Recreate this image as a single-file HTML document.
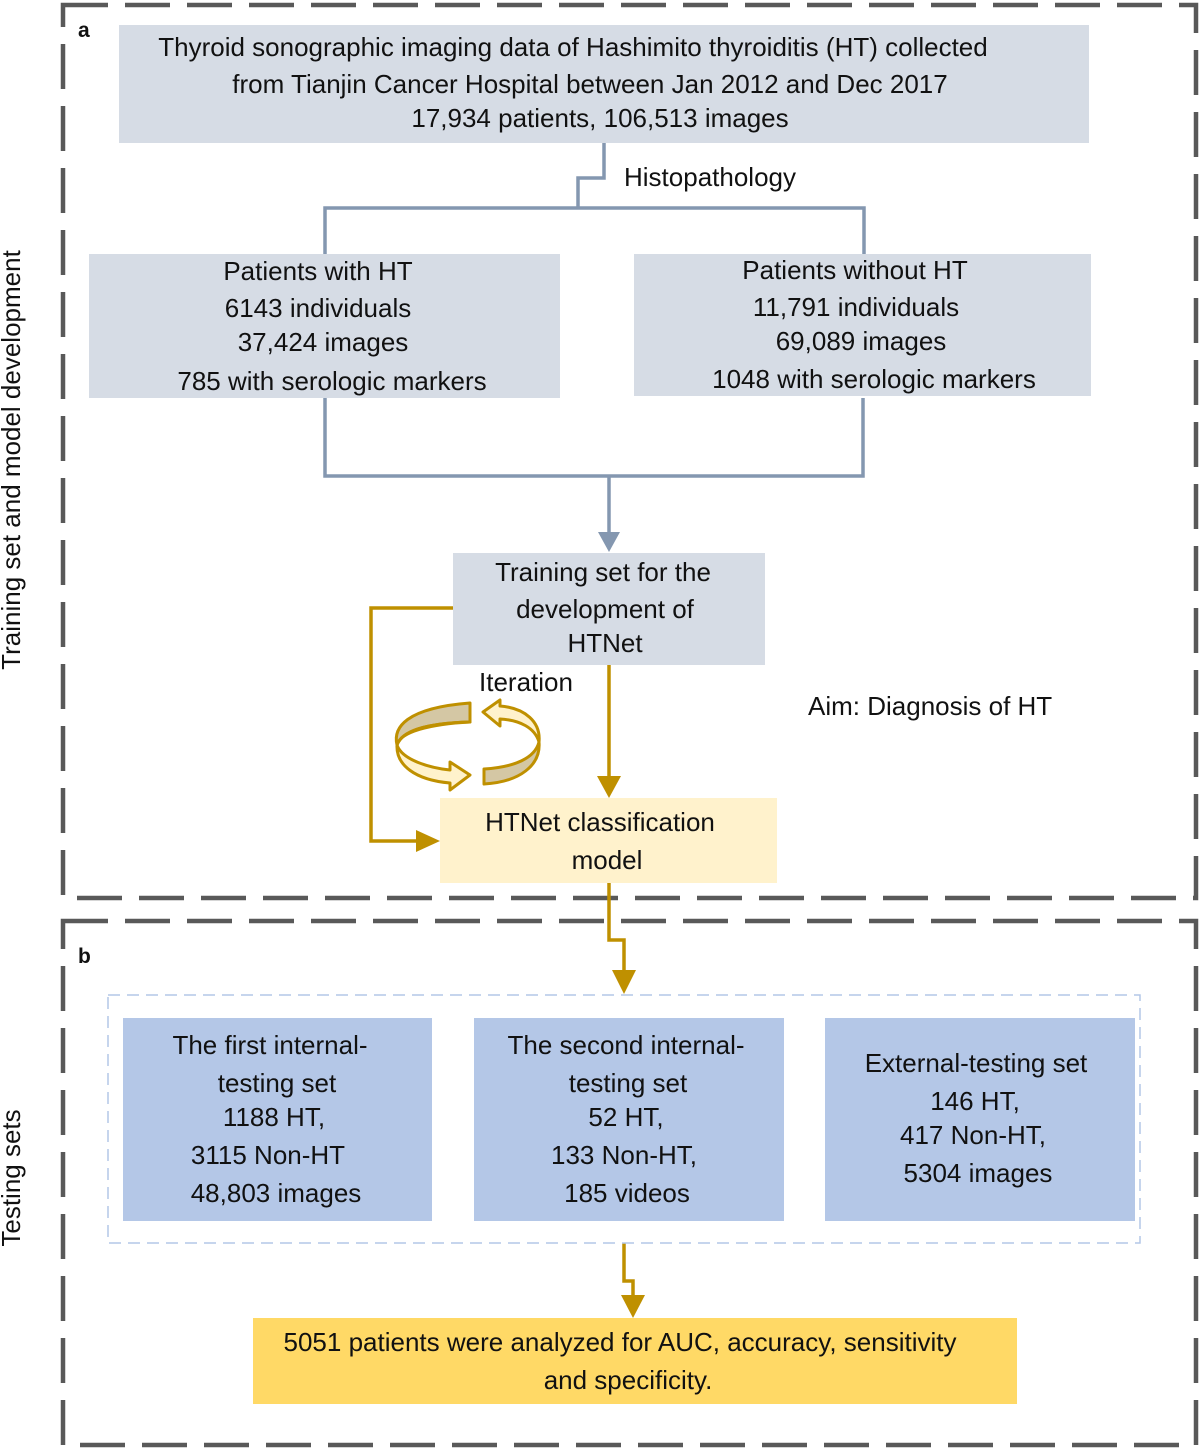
<!DOCTYPE html>
<html><head><meta charset="utf-8"><style>
html,body{margin:0;padding:0;background:#fff}
svg{display:block}
text{font-family:"Liberation Sans",sans-serif;font-size:26px;fill:#111}
</style></head><body>
<svg width="1200" height="1449" viewBox="0 0 1200 1449" xmlns="http://www.w3.org/2000/svg">
<g fill="none" stroke="#595959" stroke-width="4.5" stroke-dasharray="45,17">
<rect x="63" y="5" width="1133" height="893"/>
<rect x="63" y="921" width="1133" height="524"/>
</g>
<text x="78" y="37" font-weight="bold" style="font-size:21px">a</text>
<text x="78" y="963" font-weight="bold" style="font-size:21px">b</text>
<text transform="translate(20,460) rotate(-90)" text-anchor="middle">Training set and model development</text>
<text transform="translate(20,1178) rotate(-90)" text-anchor="middle">Testing sets</text>

<rect x="119" y="25" width="970" height="118" fill="#d6dce5"/>
<text x="573" y="56" text-anchor="middle">Thyroid sonographic imaging data of Hashimito thyroiditis (HT) collected</text>
<text x="590" y="93" text-anchor="middle">from Tianjin Cancer Hospital between Jan 2012 and Dec 2017</text>
<text x="600" y="127" text-anchor="middle">17,934 patients, 106,513 images</text>

<g fill="none" stroke="#8497b0" stroke-width="3.5">
<path d="M604,143 V178 H578 V208"/>
<path d="M325,255 V208 H864 V255"/>
<path d="M325,398 V476 H863 V398"/>
<path d="M609,476 V535"/>
</g>
<path d="M598,532 L620,532 L609,552 z" fill="#8497b0"/>
<text x="624" y="186">Histopathology</text>

<rect x="89" y="254" width="471" height="144" fill="#d6dce5"/>
<text x="318" y="280" text-anchor="middle">Patients with HT</text>
<text x="318" y="317" text-anchor="middle">6143 individuals</text>
<text x="323" y="351" text-anchor="middle">37,424 images</text>
<text x="332" y="390" text-anchor="middle">785 with serologic markers</text>

<rect x="634" y="254" width="457" height="142" fill="#d6dce5"/>
<text x="855" y="279" text-anchor="middle">Patients without HT</text>
<text x="856" y="316" text-anchor="middle">11,791 individuals</text>
<text x="861" y="350" text-anchor="middle">69,089 images</text>
<text x="874" y="388" text-anchor="middle">1048 with serologic markers</text>

<rect x="453" y="553" width="312" height="112" fill="#d6dce5"/>
<text x="603" y="581" text-anchor="middle">Training set for the</text>
<text x="605" y="618" text-anchor="middle">development of</text>
<text x="605" y="652" text-anchor="middle">HTNet</text>

<text x="479" y="691">Iteration</text>
<text x="808" y="715">Aim: Diagnosis of HT</text>

<g fill="none" stroke="#bf9000" stroke-width="3.5">
<path d="M453,608 H371 V841 H420"/>
<path d="M609,665 V778"/>
<path d="M609,883 V940 H624 V975"/>
<path d="M624,1243 V1281 H633 V1298"/>
</g>
<path d="M416,830 L440,841 L416,852 z" fill="#bf9000"/>
<path d="M597,776 L621,776 L609,798 z" fill="#bf9000"/>
<path d="M612,970 L636,970 L624,994 z" fill="#bf9000"/>
<path d="M621,1295 L645,1295 L633,1318 z" fill="#bf9000"/>

<!-- iteration icon -->
<g stroke="#bf9000" stroke-width="3" stroke-linejoin="round">
<path d="M470,703 L470,722 C430,723 402,730 397,745 C393,728 405,708 470,703 z" fill="#d4c7a4"/>
<path d="M397,745 C402,730 430,723 470,722 C430,724 400,732 397,745 C402,760 430,768 450,770 L450,762 L470,775 L450,790 L450,783 C415,780 396,765 397,745 z" fill="#fff2cc"/>
<path d="M484,769 C515,767 535,758 539,742 C541,765 520,782 484,784 z" fill="#d4c7a4"/>
<path d="M539,742 C535,728 520,720 500,719 L500,726 L483,712 L500,700 L500,706 C525,708 541,722 539,742 z" fill="#fff2cc"/>
</g>

<rect x="440" y="798" width="337" height="85" fill="#fff2cc"/>
<text x="600" y="831" text-anchor="middle">HTNet classification</text>
<text x="607" y="869" text-anchor="middle">model</text>

<rect x="108" y="995" width="1032" height="248" fill="none" stroke="#b4c7e7" stroke-width="1.5" stroke-dasharray="12,7"/>
<rect x="123" y="1018" width="309" height="203" fill="#b4c7e7"/>
<text x="270" y="1054" text-anchor="middle">The first internal-</text>
<text x="277" y="1092" text-anchor="middle">testing set</text>
<text x="274" y="1126" text-anchor="middle">1188 HT,</text>
<text x="268" y="1164" text-anchor="middle">3115 Non-HT</text>
<text x="276" y="1202" text-anchor="middle">48,803 images</text>

<rect x="474" y="1018" width="310" height="203" fill="#b4c7e7"/>
<text x="626" y="1054" text-anchor="middle">The second internal-</text>
<text x="628" y="1092" text-anchor="middle">testing set</text>
<text x="626" y="1126" text-anchor="middle">52 HT,</text>
<text x="624" y="1164" text-anchor="middle">133 Non-HT,</text>
<text x="627" y="1202" text-anchor="middle">185 videos</text>

<rect x="825" y="1018" width="310" height="203" fill="#b4c7e7"/>
<text x="976" y="1072" text-anchor="middle">External-testing set</text>
<text x="975" y="1110" text-anchor="middle">146 HT,</text>
<text x="973" y="1144" text-anchor="middle">417 Non-HT,</text>
<text x="978" y="1182" text-anchor="middle">5304 images</text>

<rect x="253" y="1318" width="764" height="86" fill="#ffd966"/>
<text x="620" y="1351" text-anchor="middle">5051 patients were analyzed for AUC, accuracy, sensitivity</text>
<text x="628" y="1389" text-anchor="middle">and specificity.</text>
</svg>
</body></html>
